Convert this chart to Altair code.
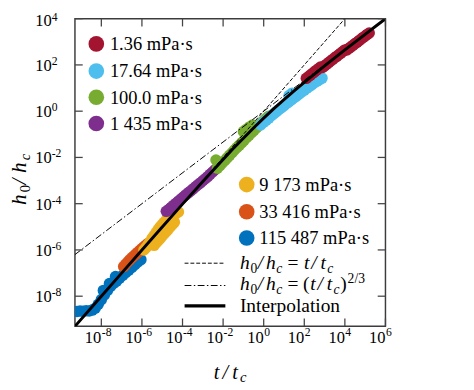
import altair as alt
import pandas as pd

SERIF = "Liberation Serif"
OX, OY = 77, 13          # page position of plot-area origin
W, H = 320, 317
XMIN, XMAX = 10 ** -9.3, 1e6
YMIN, YMAX = 10 ** -9.3, 1e4

labels = ["1.36 mPa·s", "17.64 mPa·s", "100.0 mPa·s", "1 435 mPa·s",
          "9 173 mPa·s", "33 416 mPa·s", "115 487 mPa·s"]
colors = ["#A2142F", "#4DBEEE", "#77AC30", "#7E2F8E", "#EDB120", "#D95319", "#0072BD"]

# data clusters: log10(t/tc), log10(h0/hc)
blue_lt = [-9.2, -9.05, -8.9, -8.75, -8.6, -8.45, -8.3, -8.15, -8.0, -7.9, -7.85, -7.7, -7.6, -7.55, -7.4,
           -7.3, -7.25, -7.1, -6.95, -6.8, -6.65, -6.5, -6.35, -6.2, -6.05]
blue_lh = [-8.66, -8.64, -8.65, -8.63, -8.64, -8.60, -8.52, -8.35, -8.15, -7.75, -7.95, -7.75, -7.45, -7.58, -7.45,
           -7.15, -7.35, -7.22, -7.10, -6.98, -6.88, -6.76, -6.64, -6.52, -6.42]
orange_lt = [-6.9, -6.8, -6.7, -6.6, -6.5, -6.4, -6.3, -6.2, -6.1, -6.0, -5.9, -5.8, -5.7]
orange_lh = [-6.72, -6.62, -6.52, -6.43, -6.34, -6.26, -6.18, -6.10, -6.02, -5.94, -5.86, -5.79, -5.72]
yellow_lt = [-5.9, -5.8, -5.7, -5.6, -5.5, -5.4, -5.3, -5.2, -5.1, -5.0, -4.9, -4.8, -4.7, -4.6, -4.5, -4.4, -4.3, -4.2,
             -5.4, -5.3, -5.2, -5.1, -5.0, -4.9, -4.8, -4.7, -4.6, -4.5, -4.4]
yellow_lh = [-6.00, -5.90, -5.78, -5.65, -5.50, -5.38, -5.25, -5.12, -5.00, -4.90, -4.80, -4.72, -4.64, -4.57, -4.50, -4.45, -4.40, -4.36,
             -5.80, -5.70, -5.60, -5.50, -5.40, -5.30, -5.20, -5.10, -5.00, -4.90, -4.80]
purple_lt = [-4.8, -4.68, -4.56, -4.44, -4.32, -4.2, -4.08, -3.96, -3.84, -3.72, -3.6, -3.48, -3.36, -3.24,
             -3.12, -3.0, -2.88, -2.76, -2.64, -2.52, -2.4]
purple_lh = [-4.33, -4.25, -4.16, -4.07, -3.98, -3.89, -3.80, -3.71, -3.62, -3.53, -3.45, -3.36, -3.27, -3.18,
             -3.10, -3.01, -2.92, -2.83, -2.73, -2.63, -2.53]
green_lt = [-2.35, -2.28, -2.16, -2.04, -1.92, -1.8, -1.68, -1.56, -1.44, -1.32, -1.2, -1.08, -0.96, -0.84, -0.72,
            -0.6, -0.48, -0.36, -0.24, -0.12, 0.0, 0.12, 0.24, -1.0, -0.85, -0.7, -0.55]
green_lh = [-2.11, -2.47, -2.36, -2.24, -2.13, -2.02, -1.91, -1.80, -1.68, -1.57, -1.47, -1.36, -1.25, -1.14, -1.04,
            -0.93, -0.83, -0.73, -0.62, -0.52, -0.42, -0.32, -0.22, -0.88, -0.78, -0.68, -0.60]
lblue_lt = [-0.15, 0.0, 0.125, 0.25, 0.375, 0.5, 0.625, 0.75, 0.875, 1.0, 1.125, 1.25, 1.375, 1.5, 1.625, 1.75,
            1.875, 2.0, 2.125, 2.25, 2.375, 2.5, 2.625, 2.75, 2.875, 1.25, 1.4]
lblue_lh = [-0.60, -0.48, -0.39, -0.30, -0.20, -0.11, -0.02, 0.07, 0.15, 0.24, 0.33, 0.41, 0.50, 0.58, 0.66, 0.75,
            0.83, 0.91, 0.99, 1.07, 1.15, 1.23, 1.30, 1.36, 1.43, 0.68, 0.78]
red_lt = [2.1, 2.2, 2.3, 2.4, 2.5, 2.6, 2.7, 2.8, 2.9, 3.0, 3.1, 3.2, 3.3, 3.4, 3.5, 3.6, 3.7, 3.8, 3.9, 4.0,
          4.1, 4.2, 4.3, 4.4, 4.5, 4.6, 4.7, 4.8, 4.9, 5.0, 5.1, 5.2]
red_lh = [1.42, 1.49, 1.56, 1.63, 1.70, 1.77, 1.84, 1.91, 1.89, 1.96, 2.03, 2.10, 2.17, 2.24, 2.31, 2.37, 2.44, 2.51, 2.58, 2.65,
          2.65, 2.72, 2.78, 2.85, 2.92, 2.98, 3.05, 3.12, 3.19, 3.25, 3.32, 3.38]

# solid interpolation curve
interp_lt = [-9.3, -8, -7, -6, -5, -4, -3, -2, -1.5, -1, -0.5, 0, 0.5, 1, 1.5, 2, 2.5, 3, 3.5, 4, 4.5, 5, 5.5, 6]
interp_lh = [-9.3, -8.002, -7.002, -6.004, -5.009, -4.02, -3.041, -2.086, -1.619, -1.166, -0.726, -0.301,
             0.108, 0.501, 0.881, 1.249, 1.607, 1.959, 2.305, 2.647, 2.987, 3.324, 3.661, 3.996]
# reference power laws (end points)
lin_lt, lin_lh = [-9.3, 4.0], [-9.3, 4.0]
pow_lt, pow_lh = [-9.3, 6.0], [-6.2, 4.0]

xtick_exp = [-8, -6, -4, -2, 0, 2, 4, 6]
ytick_exp = [4, 2, 0, -2, -4, -6, -8]

clusters = [(6, blue_lt, blue_lh), (5, orange_lt, orange_lh), (4, yellow_lt, yellow_lh),
            (3, purple_lt, purple_lh), (2, green_lt, green_lh), (1, lblue_lt, lblue_lh),
            (0, red_lt, red_lh)]
rows = []
k = 0
for idx, lt, lh in clusters:
    for a, b in zip(lt, lh):
        rows.append({"t": 10 ** a, "h": 10 ** b, "set": labels[idx], "k": k})
        k += 1
pts = pd.DataFrame(rows)

xs = alt.Scale(type="log", domain=[XMIN, XMAX], nice=False, zero=False)
ys = alt.Scale(type="log", domain=[YMIN, YMAX], nice=False, zero=False)


def line_df(lt, lh):
    return pd.DataFrame({"t": [10 ** v for v in lt], "h": [10 ** v for v in lh]})


X = alt.X("t:Q", scale=xs, axis=None)
Y = alt.Y("h:Q", scale=ys, axis=None)

points = alt.Chart(pts).mark_circle(size=140, opacity=1, clip=True).encode(
    x=X, y=Y,
    color=alt.Color("set:N", scale=alt.Scale(domain=labels, range=colors), legend=None),
    order="k:Q")

dashed = alt.Chart(line_df(lin_lt, lin_lh)).mark_line(
    color="black", strokeWidth=1, strokeDash=[4, 2], clip=True).encode(x=X, y=Y)
dashdot = alt.Chart(line_df(pow_lt, pow_lh)).mark_line(
    color="black", strokeWidth=1, strokeDash=[7, 2.5, 1.5, 2.5], clip=True).encode(x=X, y=Y)
interp = alt.Chart(line_df(interp_lt, interp_lh)).mark_line(
    color="black", strokeWidth=3, clip=True).encode(x=X, y=Y)

xt = pd.DataFrame({"v": [10.0 ** e for e in xtick_exp], "base": "10", "exp": [str(e) for e in xtick_exp]})
yt = pd.DataFrame({"v": [10.0 ** e for e in ytick_exp], "base": "10", "exp": [str(e) for e in ytick_exp]})
yt_top, yt_rest = yt.iloc[:1], yt.iloc[1:]
TICK = "#444444"
tick_layers = [
    alt.Chart(xt).mark_rule(color=TICK, strokeWidth=1.3).encode(
        x=alt.X("v:Q", scale=xs, axis=None), y=alt.value(H), y2=alt.value(H - 8)),
    alt.Chart(xt).mark_rule(color=TICK, strokeWidth=1.3).encode(
        x=alt.X("v:Q", scale=xs, axis=None), y=alt.value(0), y2=alt.value(8)),
    alt.Chart(yt).mark_rule(color=TICK, strokeWidth=1.3).encode(
        y=alt.Y("v:Q", scale=ys, axis=None), x=alt.value(0), x2=alt.value(8)),
    alt.Chart(yt).mark_rule(color=TICK, strokeWidth=1.3).encode(
        y=alt.Y("v:Q", scale=ys, axis=None), x=alt.value(W - 8), x2=alt.value(W)),
]


def ylab(df, dmain, dexp):
    return [
        alt.Chart(df).mark_text(font=SERIF, fontSize=17, align="left", dy=dmain).encode(
            y=alt.Y("v:Q", scale=ys, axis=None), x=alt.value(36 - OX), text="base:N"),
        alt.Chart(df).mark_text(font=SERIF, fontSize=12, align="left", dy=dexp).encode(
            y=alt.Y("v:Q", scale=ys, axis=None), x=alt.value(53 - OX), text="exp:N"),
    ]


label_layers = [
    alt.Chart(xt).mark_text(font=SERIF, fontSize=17, align="right").encode(
        x=alt.X("v:Q", scale=xs, axis=None), y=alt.value(H + 17), text="base:N"),
    alt.Chart(xt).mark_text(font=SERIF, fontSize=12, align="left", dx=0.5).encode(
        x=alt.X("v:Q", scale=xs, axis=None), y=alt.value(H + 10), text="exp:N"),
] + ylab(yt_rest, 6, 0) + ylab(yt_top, 8, 2.5)

ONE = pd.DataFrame({"a": [0]})


def glyph(s, x, y, size, italic=False, angle=0):
    kw = dict(text=s, font=SERIF, fontSize=size, align="left")
    if italic:
        kw["fontStyle"] = "italic"
    if angle:
        kw["angle"] = angle
    return alt.Chart(ONE).mark_text(**kw).encode(x=alt.value(x - OX), y=alt.value(y - OY))


deco = []
# legend 1 (upper left)
for i, cy in enumerate([39, 67, 94, 121]):
    deco.append(alt.Chart(ONE).mark_circle(size=260, opacity=1, color=colors[i]).encode(
        x=alt.value(99 - OX), y=alt.value(cy - OY)))
    deco.append(glyph(labels[i], 113, cy + 6.5, 19))
# legend 2 (lower right)
for j, cy in zip([4, 5, 6], [184, 212, 239]):
    deco.append(alt.Chart(ONE).mark_circle(size=260, opacity=1, color=colors[j]).encode(
        x=alt.value(254 - OX), y=alt.value(cy - OY)))
    deco.append(glyph(labels[j], 267, cy + 6.5, 19))
# legend line samples
deco.append(alt.Chart(ONE).mark_rule(color="black", strokeWidth=1, strokeDash=[4, 2]).encode(
    x=alt.value(190 - OX), x2=alt.value(232 - OX), y=alt.value(265 - OY)))
deco.append(alt.Chart(ONE).mark_rule(color="black", strokeWidth=1, strokeDash=[7, 2.5, 1.5, 2.5]).encode(
    x=alt.value(190 - OX), x2=alt.value(232 - OX), y=alt.value(288 - OY)))
deco.append(alt.Chart(ONE).mark_rule(color="black", strokeWidth=3.5).encode(
    x=alt.value(190 - OX), x2=alt.value(232 - OX), y=alt.value(309 - OY)))
# legend math text
MS, SS = 20, 14
for b in (271, 293):
    deco += [glyph("h", 247, b, MS, True), glyph("0", 258, b + 4, SS),
             glyph("/", 265.5, b, MS, True), glyph("h", 274, b, MS, True),
             glyph("c", 284.5, b + 4, SS, True), glyph("=", 296, b, MS)]
deco += [glyph("t", 313, 271, MS, True), glyph("/", 320.5, 271, MS, True),
         glyph("t", 330, 271, MS, True), glyph("c", 337, 275, SS, True)]
deco += [glyph("(", 312, 293, MS), glyph("t", 319.5, 293, MS, True), glyph("/", 327, 293, MS, True),
         glyph("t", 336.5, 293, MS, True), glyph("c", 343.5, 297, SS, True), glyph(")", 350.5, 293, MS),
         glyph("2/3", 358, 285, SS)]
deco.append(glyph("Interpolation", 247, 315, MS))
# axis titles
deco += [glyph("t", 220, 384, 21, True), glyph("/", 229, 384, 21, True),
         glyph("t", 239, 384, 21, True), glyph("c", 247, 387.5, 15, True)]
deco += [glyph("h", 27, 205, 22, True, angle=270), glyph("0", 31, 192, 15, angle=270),
         glyph("/", 27, 184, 22, True, angle=270), glyph("h", 27, 172, 22, True, angle=270),
         glyph("c", 31, 159, 15, True, angle=270)]

chart = alt.layer(points, dashed, dashdot, interp, *tick_layers, *label_layers, *deco).properties(
    width=W, height=H,
    autosize=alt.AutoSizeParams(type="none"),
    padding={"left": OX - 8, "top": OY - 8, "right": 480 - OX - W, "bottom": 400 - OY - H},
).configure(font=SERIF).configure_text(font=SERIF, color="black", baseline="alphabetic").configure_view(
    stroke="#3c3c3c", strokeWidth=1.5)

chart.save("out.html", embed_options={"renderer": "svg", "actions": False})
